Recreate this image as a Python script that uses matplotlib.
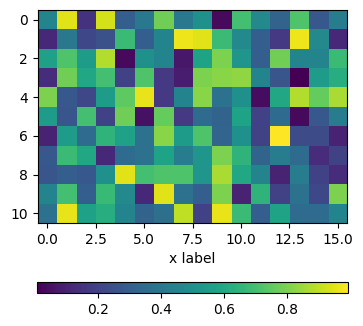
import matplotlib
matplotlib.use("Agg")
import matplotlib.pyplot as plt
import numpy as np

# 11 x 16 grid of values shown as a heatmap
row_00 = [0.45, 0.95, 0.15, 0.93, 0.30, 0.40, 0.78, 0.40, 0.50, 0.03, 0.70, 0.47, 0.32, 0.72, 0.28, 0.42]
row_01 = [0.12, 0.40, 0.22, 0.25, 0.68, 0.30, 0.45, 0.97, 0.95, 0.68, 0.47, 0.30, 0.17, 0.97, 0.47, 0.12]
row_02 = [0.57, 0.72, 0.55, 0.88, 0.03, 0.50, 0.45, 0.07, 0.58, 0.80, 0.52, 0.30, 0.78, 0.45, 0.45, 0.68]
row_03 = [0.13, 0.78, 0.60, 0.70, 0.20, 0.72, 0.17, 0.08, 0.80, 0.82, 0.83, 0.45, 0.27, 0.006, 0.55, 0.62]
row_04 = [0.80, 0.28, 0.22, 0.55, 0.75, 0.96, 0.17, 0.45, 0.82, 0.38, 0.50, 0.04, 0.60, 0.88, 0.76, 0.87]
row_05 = [0.55, 0.27, 0.70, 0.20, 0.78, 0.05, 0.76, 0.17, 0.35, 0.32, 0.58, 0.20, 0.35, 0.03, 0.28, 0.42]
row_06 = [0.10, 0.55, 0.35, 0.65, 0.57, 0.38, 0.82, 0.55, 0.72, 0.33, 0.50, 0.20, 0.994, 0.23, 0.23, 0.10]
row_07 = [0.28, 0.68, 0.60, 0.12, 0.35, 0.38, 0.58, 0.42, 0.52, 0.80, 0.65, 0.32, 0.42, 0.35, 0.13, 0.20]
row_08 = [0.27, 0.30, 0.28, 0.50, 0.95, 0.70, 0.72, 0.72, 0.52, 0.87, 0.60, 0.45, 0.10, 0.42, 0.20, 0.13]
row_09 = [0.45, 0.70, 0.30, 0.67, 0.47, 0.12, 0.95, 0.38, 0.30, 0.80, 0.10, 0.65, 0.20, 0.38, 0.22, 0.80]
row_10 = [0.38, 0.96, 0.57, 0.62, 0.45, 0.32, 0.37, 0.90, 0.20, 0.96, 0.68, 0.30, 0.58, 0.35, 0.35, 0.45]

data = np.array([row_00, row_01, row_02, row_03, row_04, row_05,
                 row_06, row_07, row_08, row_09, row_10])

fig = plt.figure(figsize=(3.63, 3.26), dpi=100)
W, H = 363, 326
ax = fig.add_axes([37 / W, 1 - 223 / H, 311 / W, 213 / H])
cax = fig.add_axes([37 / W, 1 - 293 / H, 311 / W, 11 / H])

im = ax.imshow(data, cmap="viridis")
ax.set_xlabel("x label")
fig.colorbar(im, cax=cax, orientation="horizontal")

fig.savefig("out.png", dpi=100)
